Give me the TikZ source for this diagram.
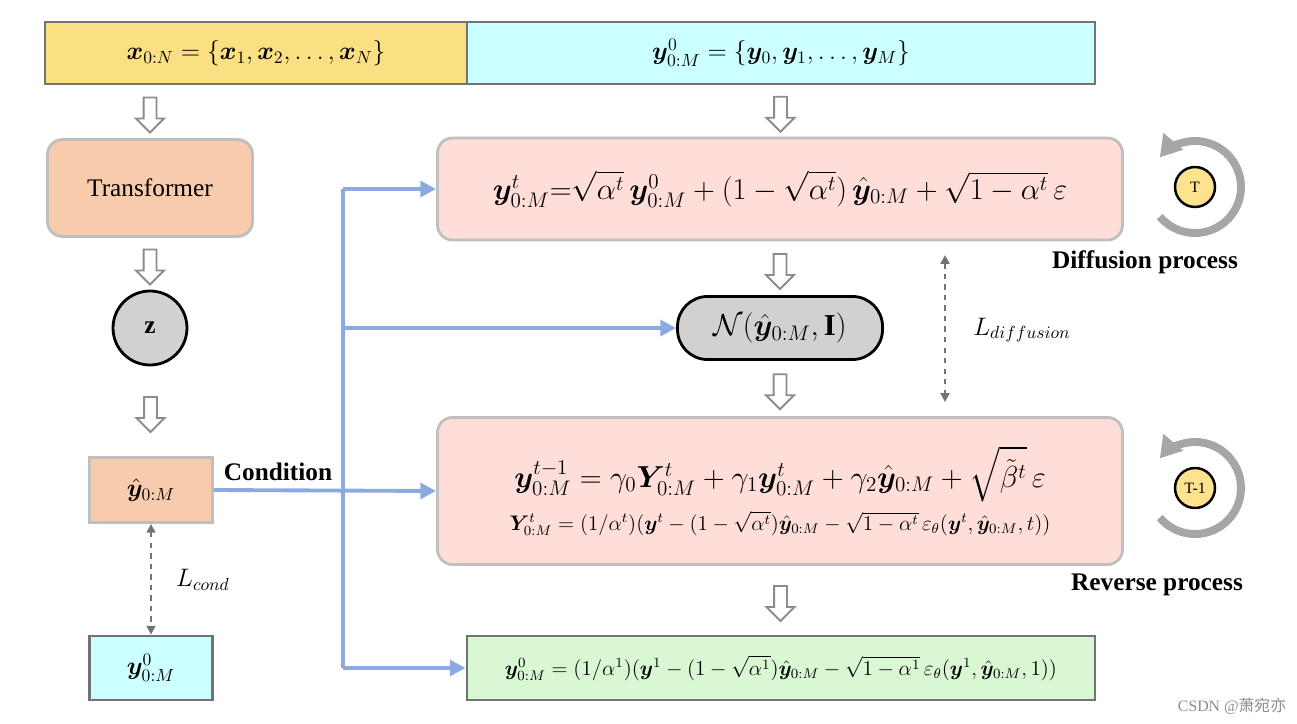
\documentclass[tikz,border=0pt]{standalone}
\usepackage{amsmath,bm}
\usepackage{fontspec}
\setmainfont{Liberation Serif}
\newfontfamily\cjk{Noto Sans CJK SC}
\usetikzlibrary{positioning,shapes.arrows,arrows.meta}
\definecolor{pale yellow}{RGB}{250,224,130}
\definecolor{pale cyan}{RGB}{204,255,255}
\definecolor{peach}{RGB}{247,203,172}
\definecolor{pinkbox}{RGB}{255,222,218}
\definecolor{palegreen}{RGB}{216,247,210}
\definecolor{condblue}{RGB}{140,170,225}
\definecolor{coin}{RGB}{254,226,142}

\begin{document}
\begin{tikzpicture}[
    x=0.02cm, y=-0.02cm,
    box/.style={
        rectangle,
        draw=black!55,
        line width=1.6pt
    },
    soft/.style={
        rounded corners=0.3cm,
        draw=black!25,
        line width=1.6pt
    },
    harrow/.style={
        single arrow,
        shape border rotate=270,
        draw=black!45,
        fill=white,
        line width=1.1pt,
        inner sep=0.11cm,
        minimum height=0.7cm,
        single arrow head extend=0.15cm
    },
    cond/.style={
        -{Triangle[length=9pt,width=9pt]},
        condblue,
        line width=2.2pt
    },
    loss/.style={
        {Triangle[length=5pt,width=5pt]}-{Triangle[length=5pt,width=5pt]},
        black!55,
        dashed,
        line width=1.3pt
    },
    cycle/.style={
        -{Triangle[length=12pt,width=14pt]},
        black!35,
        line width=4.5pt
    },
    coin/.style={
        circle,
        draw=black,
        fill=coin,
        line width=1.4pt,
        minimum size=0.8cm,
        inner sep=0pt,
        font=\small
    }
]
    \useasboundingbox (0,0) rectangle (1297,723);

    % input sequences
    \node[box, fill=pale yellow, minimum width=422*0.02cm, minimum height=62*0.02cm] (hist) at (256,53)
        {\Large $\bm{x}_{0:N}=\{\bm{x}_1,\bm{x}_2,\dots,\bm{x}_N\}$};
    \node[box, fill=pale cyan, minimum width=628*0.02cm, minimum height=62*0.02cm] (fut) at (781,53)
        {\Large $\bm{y}^0_{0:M}=\{\bm{y}_0,\bm{y}_1,\dots,\bm{y}_M\}$};

    % left column
    \node[soft, fill=peach, minimum width=205*0.02cm, minimum height=97*0.02cm] (trans) at (150,188)
        {\Large Transformer};
    \node[circle, draw=black, fill=black!18, line width=1.6pt, minimum size=74*0.02cm] (z) at (150,328)
        {\Large $\mathbf{z}$};
    \node[box, draw=black!25, fill=peach, minimum width=123*0.02cm, minimum height=65*0.02cm] (yhat) at (151,490)
        {\Large $\hat{\bm{y}}_{0:M}$};
    \node[box, fill=pale cyan, minimum width=123*0.02cm, minimum height=64*0.02cm] (ytrue) at (151,668)
        {\Large $\bm{y}^0_{0:M}$};

    % right column
    \node[soft, fill=pinkbox, minimum width=685*0.02cm, minimum height=102*0.02cm] (fwd) at (780,189)
        {\LARGE $\bm{y}^t_{0:M}{=}\sqrt{\alpha^t}\,\bm{y}^0_{0:M}+(1-\sqrt{\alpha^t})\,\hat{\bm{y}}_{0:M}+\sqrt{1-\alpha^t}\,\varepsilon$};
    \node[rounded corners=0.6cm, draw=black, fill=black!18, line width=1.6pt,
          minimum width=205*0.02cm, minimum height=63*0.02cm] (prior) at (780,328)
        {\LARGE $\mathcal{N}(\hat{\bm{y}}_{0:M},\mathbf{I})$};
    \node[soft, fill=pinkbox, minimum width=685*0.02cm, minimum height=147*0.02cm, align=center] (rev) at (780,491)
        {\LARGE $\bm{y}^{t-1}_{0:M}=\gamma_0\bm{Y}^t_{0:M}+\gamma_1\bm{y}^t_{0:M}+\gamma_2\hat{\bm{y}}_{0:M}+\sqrt{\tilde{\beta}^t}\,\varepsilon$\\[4pt]
         \large $\bm{Y}^t_{0:M}=(1/\alpha^t)(\bm{y}^t-(1-\sqrt{\alpha^t})\hat{\bm{y}}_{0:M}-\sqrt{1-\alpha^t}\,\varepsilon_\theta(\bm{y}^t,\hat{\bm{y}}_{0:M},t))$};
    \node[box, fill=palegreen, minimum width=628*0.02cm, minimum height=64*0.02cm] (out) at (781,668)
        {\large $\bm{y}^0_{0:M}=(1/\alpha^1)(\bm{y}^1-(1-\sqrt{\alpha^1})\hat{\bm{y}}_{0:M}-\sqrt{1-\alpha^1}\,\varepsilon_\theta(\bm{y}^1,\hat{\bm{y}}_{0:M},1))$};

    % hollow flow arrows
    \path (hist.south -| trans.north) -- node[harrow] {} (trans.north);
    \foreach \a/\b in {trans/z, z/yhat, fut/fwd, fwd/prior, prior/rev, rev/out} {
        \path (\a.south) -- node[harrow] {} (\b.north);
    }

    % condition bus
    \coordinate (bus-top) at (343,189);
    \coordinate (bus-mid) at (343,328);
    \coordinate (bus-bot) at (343,668);
    \draw[condblue, line width=2.2pt] (bus-top) -- (bus-bot);
    \draw[cond] (yhat.east) -- (rev.west);
    \draw[cond] (bus-top) -- (fwd.west);
    \draw[cond] (bus-mid) -- (prior.west);
    \draw[cond] (bus-bot) -- (out.west);
    \node[font=\Large\bfseries] (condlbl) at (278,472) {Condition};

    % losses
    \draw[loss] (yhat.south) -- (ytrue.north);
    \node[font=\Large] (lcond) at (203,580) {$L_{cond}$};
    \coordinate (ld-top) at (945,255);
    \coordinate (ld-bot) at (945,402);
    \draw[loss] (ld-top) -- (ld-bot);
    \node[font=\Large] (ldiff) at (1022,330) {$L_{diffusion}$};

    % iteration loops
    \node[coin] (stepT) at (1195,187) {T};
    \draw[cycle] (stepT.center) ++(140:46) arc (140:-140:46);
    \node[font=\Large\bfseries] (difflbl) at (1145,262) {Diffusion process};
    \node[coin] (stepT1) at (1195,488) {T-1};
    \draw[cycle] (stepT1.center) ++(140:46) arc (140:-140:46);
    \node[font=\Large\bfseries] (revlbl) at (1157,585) {Reverse process};

    \node[font=\small, text=black!45] (mark) at (1232,706) {CSDN @{\cjk 萧宛亦}};
\end{tikzpicture}
\end{document}
